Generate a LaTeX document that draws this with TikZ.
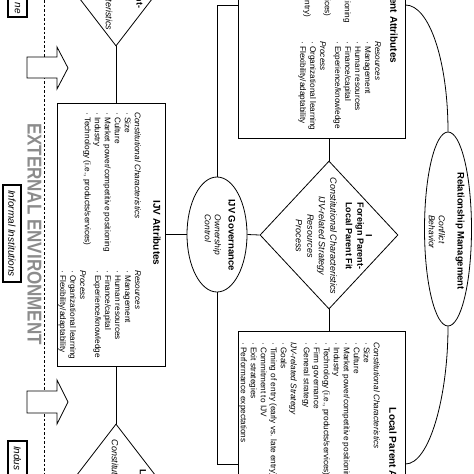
\documentclass[tikz,border=0pt]{standalone}
\usepackage{fontspec}
\usepackage{graphicx}
\setmainfont{Liberation Sans}
\usetikzlibrary{shapes.geometric}

\begin{document}
\begin{tikzpicture}[x=1pt,y=-1pt,
	attbox/.style={draw, line width=1pt, inner sep=0pt},
	fitbox/.style={diamond, draw, line width=0.8pt, inner sep=0pt},
	relbox/.style={ellipse, draw, line width=0.8pt, inner sep=0pt},
	envbox/.style={draw, line width=1.6pt, rotate=-90, font=\fontsize{10}{12}\selectfont\itshape},
	head/.style={rotate=-90, inner sep=0pt, font=\fontsize{10}{12}\selectfont\bfseries},
	body/.style={rotate=-90, anchor=north west, inner sep=0pt, align=left, font=\fontsize{8.2}{10}\selectfont},
	fittext/.style={rotate=-90, inner sep=0pt, align=center, font=\fontsize{9}{11.5}\selectfont},
	link/.style={line width=0.8pt}]
				\useasboundingbox (0,0) rectangle (474,474);
				\clip (0,0) rectangle (474,474);
				\draw[line width=0.9pt, dash pattern=on 2.5pt off 2pt] (44,0) -- (44,474);
				\node[rotate=-90, text=black!45, font=\fontsize{20}{20}\selectfont\bfseries] (env) at (34.5,234) {\scalebox{0.85}[1]{EXTERNAL ENVIRONMENT}};
				\node[envbox, minimum width=60, minimum height=19, text width=54, align=right, inner xsep=3pt] (frm) at (17.5,-13) {ne};
				\node[envbox, minimum width=97, minimum height=18] (inf) at (12,233.5) {Informal Institutions};
				\node[envbox, minimum width=100, minimum height=19, text width=90, align=left, inner xsep=5pt] (ind) at (17.5,491) {Indus};
				\draw[line width=0.8pt, fill=white] (27,57) -- (57,57) -- (57,47) -- (68,68) -- (57,89) -- (57,78) -- (27,78) -- cycle;
				\draw[line width=0.8pt, fill=white] (27,391) -- (57,391) -- (57,380) -- (68,402) -- (57,424) -- (57,413) -- (27,413) -- cycle;

				\node[attbox, minimum width=108, minimum height=263] (ijv) at (111,234.5) {};
				\node[attbox, minimum width=167, minimum height=266] (fpa) at (321.5,5) {};
				\node[attbox, minimum width=167, minimum height=266] (lpa) at (321.5,464) {};
				\node[fitbox, minimum width=114, minimum height=148] (ifit) at (116,-28) {};
				\node[fitbox, minimum width=138, minimum height=148] (fpfit) at (329,235) {};
				\node[fitbox, minimum width=114, minimum height=148] (lfit) at (116,498) {};
				\node[relbox, minimum width=60, minimum height=115] (gov) at (217,234.5) {};
				\node[relbox, minimum width=47, minimum height=194] (rel) at (448,229) {};

				\draw[link] (ifit.south) -- (ifit.south |- ijv.north);
				\draw[link] (lfit.north) -- (lfit.north |- ijv.south);
				\draw[link] (ijv.east) -- (gov.west);
				\draw[link] (gov.east) -- (fpfit.west);
				\draw[link] (gov.north) |- (fpa.west);
				\draw[link] (gov.south) |- (lpa.west);
				\draw[link] (fpfit.north |- fpa.south) -- (fpfit.north);
				\draw[link] (fpfit.south) -- (fpfit.south |- lpa.north);
				\draw[link] (fpa.east) .. controls +(24,0) and +(0,-70) .. (rel.north);
				\draw[link] (lpa.east) .. controls +(24,0) and +(0,70) .. (rel.south);

				\node[head] (ijvT) at (157,233) {IJV Attributes};
				\node[body] (ijvC) at (141,112) {\textit{Constitutional Characteristics}\\ · Size\\ · Culture\\ · Market power/competitive positioning\\ · Industry\\ · Technology (i.e., products/services)};
				\node[body] (ijvR) at (141,270) {\textit{Resources}\\ · Management\\ · Human resources\\ · Finance/capital\\ · Experience/knowledge\\[5pt] \textit{Process}\\ · Organizational learning\\ · Flexibility/adaptability};

				\node[head] (fpaT) at (393,3) {Foreign Parent Attributes};
				\node[body] (fpaC) at (351,-117) {· Market power/competitive positioning\\[10pt] · Technology (i.e., products/services)\\[10pt] · Timing of entry (early vs. late entry)};
				\node[body] (fpaR) at (381,41) {\textit{Resources}\\ · Management\\ · Human resources\\ · Finance/capital\\ · Experience/knowledge\\[5pt] \textit{Process}\\ · Organizational learning\\ · Flexibility/adaptability};

				\node[head] (lpaT) at (393,463) {Local Parent Attributes};
				\node[body] (lpaC) at (380,342) {\textit{Constitutional Characteristics}\\ · Size\\ · Culture\\ · Market power/competitive positioning\\ · Industry\\ · Technology (i.e., products/services)\\ · Firm governance\\ · General strategy\\[3pt] \textit{IJV-related Strategy}\\ · Goals\\ · Timing of entry (early vs. late entry)\\ · Commitment to IJV\\ · Exit strategies\\ · Performance expectations};

				\node[fittext] (ifitA) at (139,-25) {\textbf{Foreign Parent-}};
				\node[fittext] (ifitB) at (109,-28) {\textit{Constitutional Characteristics}};
				\node[fittext] (fpfitT) at (334,236) {\textbf{I}\\[-3pt] \textbf{Foreign Parent-}\\ \textbf{Local Parent Fit}\\[4pt] \textit{Constitutional Characteristics}\\ \textit{IJV-related Strategy}\\ \textit{Resources}\\ \textit{Process}};
				\node[fittext] (lfitA) at (143,498) {\textbf{Local Parent-}};
				\node[fittext] (lfitB) at (115,498) {\textit{Constitutional Characteristics}};

				\node[head, font=\fontsize{9.5}{11}\selectfont\bfseries] (govT) at (232,235) {IJV Governance};
				\node[fittext, align=left, font=\fontsize{8.5}{10}\selectfont\itshape] (govS) at (213,235) {Ownership\\ Control};
				\node[head, font=\fontsize{9.5}{11}\selectfont\bfseries] (relT) at (460,231) {Relationship Management};
				\node[fittext, align=left, font=\fontsize{8.5}{10}\selectfont\itshape] (relS) at (437,232) {Conflict\\ Behavior};
			\end{tikzpicture}
\end{document}
